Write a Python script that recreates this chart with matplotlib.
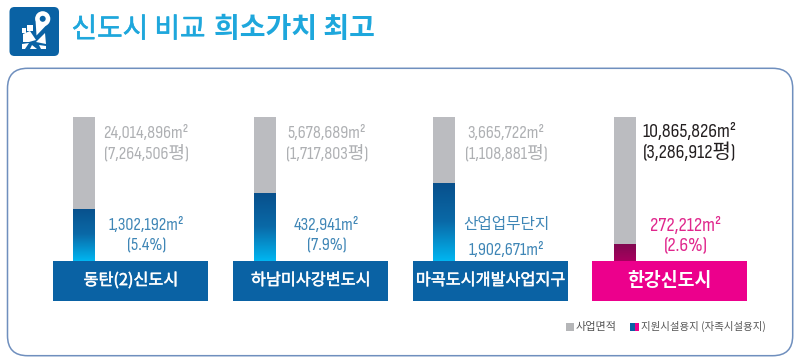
import matplotlib
matplotlib.use("Agg")
import matplotlib.pyplot as plt
import matplotlib.patheffects as pe
import numpy as np
from matplotlib.colors import LinearSegmentedColormap
from matplotlib.patches import FancyBboxPatch, Polygon, Circle, Rectangle

cjk = "Noto Sans CJK KR"
narrow = ["Sofia Sans Condensed", cjk]

# bar fill heights (total bar = 100)
categories = ["동탄(2)신도시", "하남미사강변도시", "마곡도시개발사업지구", "한강신도시"]
bar_total = [100, 100, 100, 100]
fill_share = [36.5, 47, 54, 12]
area_labels = ["24,014,896m²\n(7,264,506평)", "5,678,689m²\n(1,717,803평)",
               "3,665,722m²\n(1,108,881평)", "10,865,826m²\n(3,286,912평)"]
fill_labels = ["1,302,192m²\n(5.4%)", "432,941m²\n(7.9%)",
               "산업업무단지\n1,902,671m²", "272,212m²\n(2.6%)"]

# layout, in pixels of the 800x363 picture
bar_x = [84.2, 265.2, 443.7, 624.7]
bar_w = 21.7
box_left = [53.3, 233, 412.7, 592.3]
box_w = 155
area_x = [146, 327, 506, 689.7]
fill_x = [146.3, 326.7, 506, 686]
area_colors = ["#aeb0b3", "#aeb0b3", "#aeb0b3", "#231f20"]
fill_colors = ["#3f86b6", "#3f86b6", "#3f86b6", "#e0268c"]
box_colors = ["#0a62a4", "#0a62a4", "#0a62a4", "#ec008c"]


def thick(color, lw=0.35):
    return [pe.withStroke(linewidth=lw, foreground=color)]


fig = plt.figure(figsize=(8, 3.63), dpi=100)
ax = fig.add_axes([0, 0, 1, 1])
ax.set_xlim(0, 800)
ax.set_ylim(363, 0)
ax.axis("off")

# outer frame
ax.add_patch(FancyBboxPatch((7.5 + 20, 68.3 + 20), 785.2 - 40, 287.4 - 40,
                            boxstyle="round,pad=20,rounding_size=20",
                            fc="white", ec="#6f8fbe", lw=1.1))

# icon
ax.add_patch(FancyBboxPatch((14.5, 12), 39.5, 39, boxstyle="round,pad=5,rounding_size=5",
                            fc="#0a62a4", ec="none"))
ax.add_patch(Circle((42.7, 18.8), 7.6, fc="white", ec="none", zorder=3))
ax.add_patch(Polygon([[35.6, 21.5], [49.8, 21.5], [36.5, 35.5]], fc="white", ec="none", zorder=3))
ax.add_patch(Circle((42.7, 18.8), 3.0, fc="#0a62a4", ec="none", zorder=4))
for pts in ([[27, 25], [33, 25], [33, 31], [27, 31]],
            [[22, 28], [26, 28], [26, 33], [22, 33]],
            [[23, 34], [30, 31], [36, 40], [29, 42], [23, 42]],
            [[22, 44], [29, 43], [25, 49], [22, 49]],
            [[32, 45], [37, 49], [30, 49]],
            [[45, 33], [46, 44], [36, 42]],
            [[39, 45], [46, 46], [46, 49], [41, 49]]):
    ax.add_patch(Polygon(pts, fc="white", ec="none", zorder=3))

# title
ax.text(71.5, 29.5, "신도시 비교", family=cjk, fontsize=20, color="#1ea7dc", va="center", ha="left",
        path_effects=thick("#1ea7dc", 0.4))
ax.text(213.5, 29.5, "희소가치 최고", family=cjk, fontsize=20.2, fontweight="bold", color="#1ea7dc",
        va="center", ha="left")

# bars, in their own axes: 0 at the base boxes, 100 at the top of the bars
ax_b = fig.add_axes([0, (363 - 261.3) / 363, 1, 144.3 / 363])
ax_b.axis("off")
ax_b.patch.set_alpha(0)
blue_cm = LinearSegmentedColormap.from_list("b", ["#00b6f1", "#0a6aa8", "#08508c"])
pink_cm = LinearSegmentedColormap.from_list("p", ["#a8005f", "#7f0a50"])
ramp = np.linspace(0, 1, 128).reshape(-1, 1)
ax_b.bar(bar_x, bar_total, width=bar_w, color="#bbbcc0")
fills = ax_b.bar(bar_x, fill_share, width=bar_w, color="none")
for i, rect in enumerate(fills):
    cm = pink_cm if i == 3 else blue_cm
    im = ax_b.imshow(ramp, cmap=cm, origin="lower", aspect="auto",
                     extent=(bar_x[i] - bar_w / 2, bar_x[i] + bar_w / 2, 0, fill_share[i]), zorder=3)
    im.set_clip_path(rect)
ax_b.set_xlim(0, 800)
ax_b.set_ylim(0, 100)

# base boxes and labels
for i, name in enumerate(categories):
    ax.add_patch(Rectangle((box_left[i], 261.3), box_w, 39.4, fc=box_colors[i], ec="none"))
    size = 13.2 if i == 3 else 11.7
    weight = "bold" if i == 3 else "normal"
    ax.text(box_left[i] + box_w / 2, 280.5, name, family=cjk, fontsize=size, fontweight=weight,
            color="white", ha="center", va="center", path_effects=None if i == 3 else thick("white"))
    a1, a2 = area_labels[i].split("\n")
    f1, f2 = fill_labels[i].split("\n")
    num_size = 14.4 if i == 3 else 13
    top_size = 11.3 if i == 2 else num_size
    ax.text(area_x[i], 132.5, a1, family=narrow, fontsize=num_size, color=area_colors[i], ha="center", va="center")
    ax.text(area_x[i], 152.5, a2, family=narrow, fontsize=num_size, color=area_colors[i], ha="center", va="center")
    ax.text(fill_x[i], 225.5, f1, family=narrow, fontsize=top_size, color=fill_colors[i], ha="center", va="center")
    ax.text(fill_x[i], 250 if i == 2 else 246, f2, family=narrow, fontsize=num_size, color=fill_colors[i],
            ha="center", va="center")

# legend
ax.add_patch(Rectangle((566, 323), 8, 8, fc="#b5b6b8", ec="none"))
ax.text(576, 326.8, "사업면적", family=cjk, fontsize=8, color="#555555", va="center", ha="left")
ax.add_patch(Rectangle((630, 323), 4.5, 8, fc="#0a62a4", ec="none"))
ax.add_patch(Rectangle((634.5, 323), 4.5, 8, fc="#ec008c", ec="none"))
ax.text(641, 326.8, "지원시설용지 (자족시설용지)", family=cjk, fontsize=7.5, color="#555555", va="center", ha="left")

fig.savefig("out.png", dpi=100)
